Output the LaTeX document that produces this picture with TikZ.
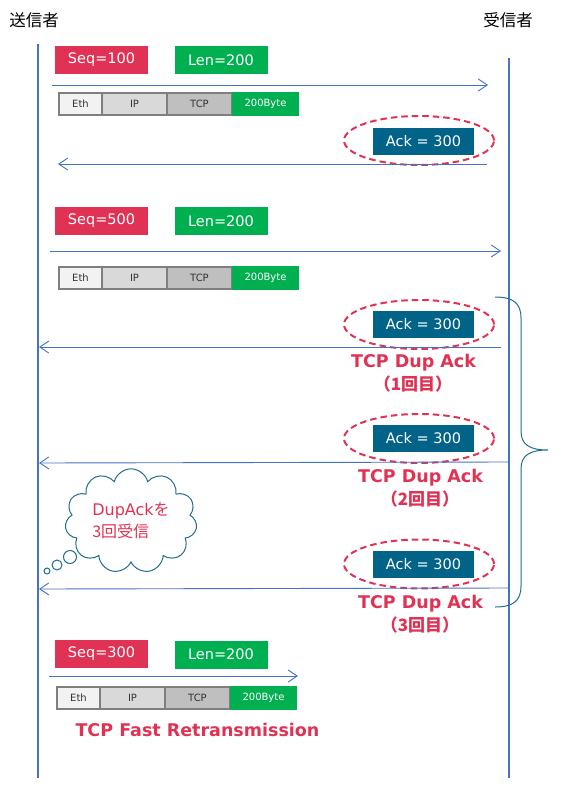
\documentclass[tikz,border=0pt]{standalone}
\usepackage{fontspec}
\setmainfont{DejaVu Sans}
\newfontfamily\jp{Noto Sans CJK JP}
\usetikzlibrary{arrows.meta,shapes.symbols,shapes.geometric}
\definecolor{lblue}{RGB}{68,114,196}
\definecolor{cred}{RGB}{224,50,84}
\definecolor{cgreen}{RGB}{0,176,80}
\definecolor{ackblue}{RGB}{0,99,135}
\definecolor{tealline}{RGB}{31,110,140}
\definecolor{pgray}{RGB}{127,127,127}
\definecolor{ethc}{RGB}{242,242,242}
\definecolor{ipc}{RGB}{217,217,217}
\definecolor{tcpc}{RGB}{191,191,191}
\newcommand\pkt[3]{%
  \node[seg,fill=ethc,minimum width=43pt] (#1e) at (#2,#3) {Eth};
  \node[seg,fill=ipc,minimum width=65pt] (#1i) at (#1e.east) {IP};
  \node[seg,fill=tcpc,minimum width=65pt] (#1t) at (#1i.east) {TCP};
  \node[seg,draw=none,fill=cgreen,text=white,minimum width=67pt,minimum height=23.6pt] (#1d) at (#1t.east) {200Byte};
}
\begin{document}
\begin{tikzpicture}[x=1pt,y=-1pt,
  lifeline/.style={draw=lblue,line width=2.4pt},
  msg/.style={draw=lblue,line width=0.9pt,-{Straight Barb[length=9pt,width=12pt,line width=0.9pt]}},
  seqbox/.style={fill=cred,text=white,minimum width=93pt,minimum height=28pt,inner sep=0pt,font=\fontsize{14.5}{16}\selectfont},
  lenbox/.style={seqbox,fill=cgreen},
  ackbox/.style={fill=ackblue,text=white,minimum width=101pt,minimum height=27pt,inner sep=0pt,font=\fontsize{14.5}{16}\selectfont},
  ackring/.style={draw=cred,ellipse,line width=2pt,dash pattern=on 6.5pt off 4pt,minimum width=150pt,minimum height=49pt,inner sep=0pt},
  seg/.style={draw=pgray,line width=1.8pt,minimum height=22pt,inner sep=0pt,outer sep=0pt,anchor=west,text=black!80,font=\fontsize{10}{10}\selectfont},
  duplbl/.style={text=cred,font=\fontsize{17.5}{20}\selectfont\bfseries},
  dupnum/.style={text=cred,font=\jp\fontsize{17}{20}\selectfont\bfseries},
  title/.style={font=\jp\fontsize{16.5}{18}\selectfont},
  brace/.style={draw=tealline,line width=1pt},
  bubble/.style={circle,draw=tealline,fill=white,line width=1pt,inner sep=0pt}
]
\useasboundingbox (0,0) rectangle (560,803);

% titles
\node[title] (snd) at (34,20) {送信者};
\node[title] (rcv) at (508,20) {受信者};

% lifelines
\coordinate (Lt) at (38,44);
\coordinate (Lb) at (38,778);
\coordinate (Rt) at (509,58);
\coordinate (Rb) at (509,778);
\draw[lifeline] (Lt) -- (Lb);
\draw[lifeline] (Rt) -- (Rb);

% block 1
\node[seqbox] (seq1) at (101.5,59.5) {Seq=100};
\node[lenbox] (len1) at (221,60) {Len=200};
\coordinate (m1a) at (52,85);
\coordinate (m1b) at (488,85);
\draw[msg] (m1a) -- (m1b);
\pkt{p1}{59}{104}
\node[ackring] (r1) at (419,140.5) {};
\node[ackbox] (a1) at (423.5,141) {Ack = 300};
\coordinate (m2a) at (487,164);
\coordinate (m2b) at (58,164);
\draw[msg] (m2a) -- (m2b);

% block 2
\node[seqbox] (seq2) at (101.5,220.5) {Seq=500};
\node[lenbox] (len2) at (221,221) {Len=200};
\coordinate (m3a) at (50,251);
\coordinate (m3b) at (501,251);
\draw[msg] (m3a) -- (m3b);
\pkt{p2}{59}{278}

% dup ack 1
\node[ackring] (r2) at (419,324.5) {};
\node[ackbox] (a2) at (423.5,324.5) {Ack = 300};
\coordinate (m4a) at (501,347);
\coordinate (m4b) at (39,347);
\draw[msg] (m4a) -- (m4b);
\node[duplbl] (d1) at (413.5,363) {TCP Dup Ack};
\node[dupnum] (n1) at (413,384) {（1回目）};

% dup ack 2
\node[ackring] (r3) at (419,438.5) {};
\node[ackbox] (a3) at (423.5,438.5) {Ack = 300};
\coordinate (m5a) at (509,462);
\coordinate (m5b) at (39,463);
\draw[msg] (m5a) -- (m5b);
\node[duplbl] (d2) at (420.5,478) {TCP Dup Ack};
\node[dupnum] (n2) at (420,499) {（2回目）};

% dup ack 3
\node[ackring] (r4) at (419,564) {};
\node[ackbox] (a4) at (423.5,564.5) {Ack = 300};
\coordinate (m6a) at (509,588);
\coordinate (m6b) at (39,589);
\draw[msg] (m6a) -- (m6b);
\node[duplbl] (d3) at (420.5,604) {TCP Dup Ack};
\node[dupnum] (n3) at (420,625) {（3回目）};

% brace
\draw[brace] (495,297) .. controls (513,297) and (521,303) .. (521,318)
  -- (521,431) .. controls (521,445) and (530,450) .. (548,450)
  .. controls (530,450) and (521,455) .. (521,469)
  -- (521,586) .. controls (521,601) and (513,607) .. (495,607);

% cloud
\node[bubble, minimum size=6pt] (b1) at (47,571) {};
\node[bubble, minimum size=10pt] (b2) at (57,565) {};
\node[bubble, minimum size=13pt] (b3) at (70,557) {};
\node[cloud, draw=tealline, fill=white, line width=1pt, cloud puffs=11,
  aspect=1.3, minimum width=132pt, minimum height=104pt, inner sep=0pt,
  align=left, text=cred,
  font=\fontsize{16}{22}\selectfont] (cl) at (131,521)
  {DupAck{\jp を}\\{\jp 3回受信}};

% block 3
\node[seqbox] (seq3) at (101.5,654) {Seq=300};
\node[lenbox] (len3) at (221,654.5) {Len=200};
\coordinate (m7a) at (49,676);
\coordinate (m7b) at (298,676);
\draw[msg] (m7a) -- (m7b);
\pkt{p3}{57}{698}
\node[duplbl] (fr) at (197.5,730) {TCP Fast Retransmission};
\end{tikzpicture}
\end{document}
